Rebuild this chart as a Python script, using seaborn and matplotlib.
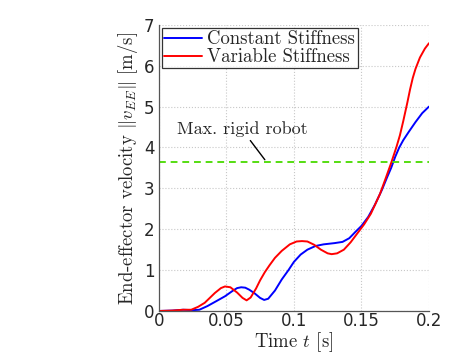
import matplotlib
matplotlib.use("Agg")
import matplotlib.pyplot as plt
import pandas as pd
import seaborn as sns

t_const = [0, 0.01, 0.018, 0.025, 0.03, 0.036, 0.042, 0.049, 0.055, 0.058, 0.061,
           0.064, 0.067, 0.071, 0.075, 0.078, 0.081, 0.086, 0.091, 0.096, 0.1,
           0.105, 0.11, 0.116, 0.122, 0.13, 0.136, 0.141, 0.146, 0.15, 0.155,
           0.16, 0.165, 0.169, 0.172, 0.175, 0.178, 0.181, 0.185, 0.19, 0.195, 0.2]
v_const = [0, 0.01, 0.03, 0.02, 0.03, 0.12, 0.23, 0.36, 0.5, 0.56, 0.58,
           0.57, 0.52, 0.43, 0.32, 0.27, 0.3, 0.5, 0.77, 1.0, 1.2,
           1.38, 1.5, 1.59, 1.63, 1.66, 1.69, 1.78, 1.95, 2.08, 2.3,
           2.6, 2.95, 3.27, 3.5, 3.77, 4.0, 4.18, 4.38, 4.62, 4.84, 5.0]

t_var = [0, 0.01, 0.018, 0.024, 0.029, 0.034, 0.0415, 0.046, 0.049, 0.053, 0.058,
         0.062, 0.065, 0.068, 0.072, 0.075, 0.0785, 0.082, 0.086, 0.091, 0.097,
         0.102, 0.106, 0.11, 0.115, 0.12, 0.125, 0.128, 0.132, 0.137, 0.142,
         0.147, 0.152, 0.157, 0.1637, 0.168, 0.172, 0.176, 0.1785, 0.181, 0.184,
         0.186, 0.188, 0.19, 0.1933, 0.197, 0.2]
v_var = [0, 0.01, 0.03, 0.03, 0.1, 0.2, 0.44, 0.56, 0.6, 0.58, 0.45,
         0.32, 0.26, 0.33, 0.55, 0.75, 0.95, 1.12, 1.3, 1.47, 1.63,
         1.7, 1.71, 1.7, 1.62, 1.5, 1.41, 1.39, 1.41, 1.5, 1.68,
         1.9, 2.12, 2.38, 2.86, 3.25, 3.62, 4.02, 4.3, 4.65, 5.1,
         5.42, 5.7, 5.92, 6.2, 6.42, 6.55]

rigid_max = 3.65
labels = ["Constant Stiffness", "Variable Stiffness"]

df = pd.concat([
    pd.DataFrame({"t": t_const, "v": v_const, "case": labels[0]}),
    pd.DataFrame({"t": t_var, "v": v_var, "case": labels[1]}),
])

sns.set_style("white")
plt.rcParams["mathtext.fontset"] = "cm"
plt.rcParams["font.family"] = ["DejaVu Sans"]

fig = plt.figure(figsize=(4.74, 3.55), dpi=100)
ax = fig.add_axes([0.335, 0.124, 0.57, 0.806])

sns.lineplot(data=df, x="t", y="v", hue="case", sort=False,
             palette=["#0000ff", "#ff0000"], linewidth=1.4, ax=ax, legend=False)
ax.axhline(rigid_max, color="#55dd11", linestyle=(0, (3.5, 2.5)), linewidth=1.4)

ax.set_xlim(0, 0.2)
ax.set_ylim(0, 7)
ax.set_xticks([0, 0.05, 0.1, 0.15, 0.2])
ax.set_xticklabels(["0", "0.05", "0.1", "0.15", "0.2"])
ax.set_yticks(range(8))
ax.tick_params(labelsize=12, length=0)
ax.tick_params(axis="x", pad=1)
ax.tick_params(axis="y", pad=3)
ax.grid(True, linestyle=":", color="#c8c8c8", linewidth=0.8)
for s in ["top", "right"]:
    ax.spines[s].set_visible(False)
for s in ["left", "bottom"]:
    ax.spines[s].set_color("#555555")
    ax.spines[s].set_linewidth(0.9)

ax.set_xlabel(r"Time $t$ [s]", fontfamily="cmr10", fontsize=13.5, labelpad=0)
ax.set_ylabel(r"End-effector velocity $\Vert v_{EE}\Vert$ [m/s]",
              fontfamily="cmr10", fontsize=13.5, labelpad=3)

ax.annotate("Max. rigid robot", xy=(0.0785, 3.70), xytext=(0.0615, 4.25),
            fontfamily="cmr10", fontsize=13, ha="center", va="bottom",
            arrowprops=dict(arrowstyle="-", color="black", lw=1.0,
                            shrinkA=0, shrinkB=0))

handles = [plt.Line2D([], [], color="#0000ff", lw=1.4),
           plt.Line2D([], [], color="#ff0000", lw=1.4)]
leg = ax.legend(handles, labels, loc="upper left", bbox_to_anchor=(0.005, 0.995),
                prop={"family": "cmr10", "size": 13.5}, frameon=True,
                fancybox=False, edgecolor="black", borderpad=0.12,
                labelspacing=0.0, handlelength=2.0, handletextpad=0.3,
                borderaxespad=0.1)
leg.get_frame().set_linewidth(0.9)

fig.savefig("out.png", dpi=100)
